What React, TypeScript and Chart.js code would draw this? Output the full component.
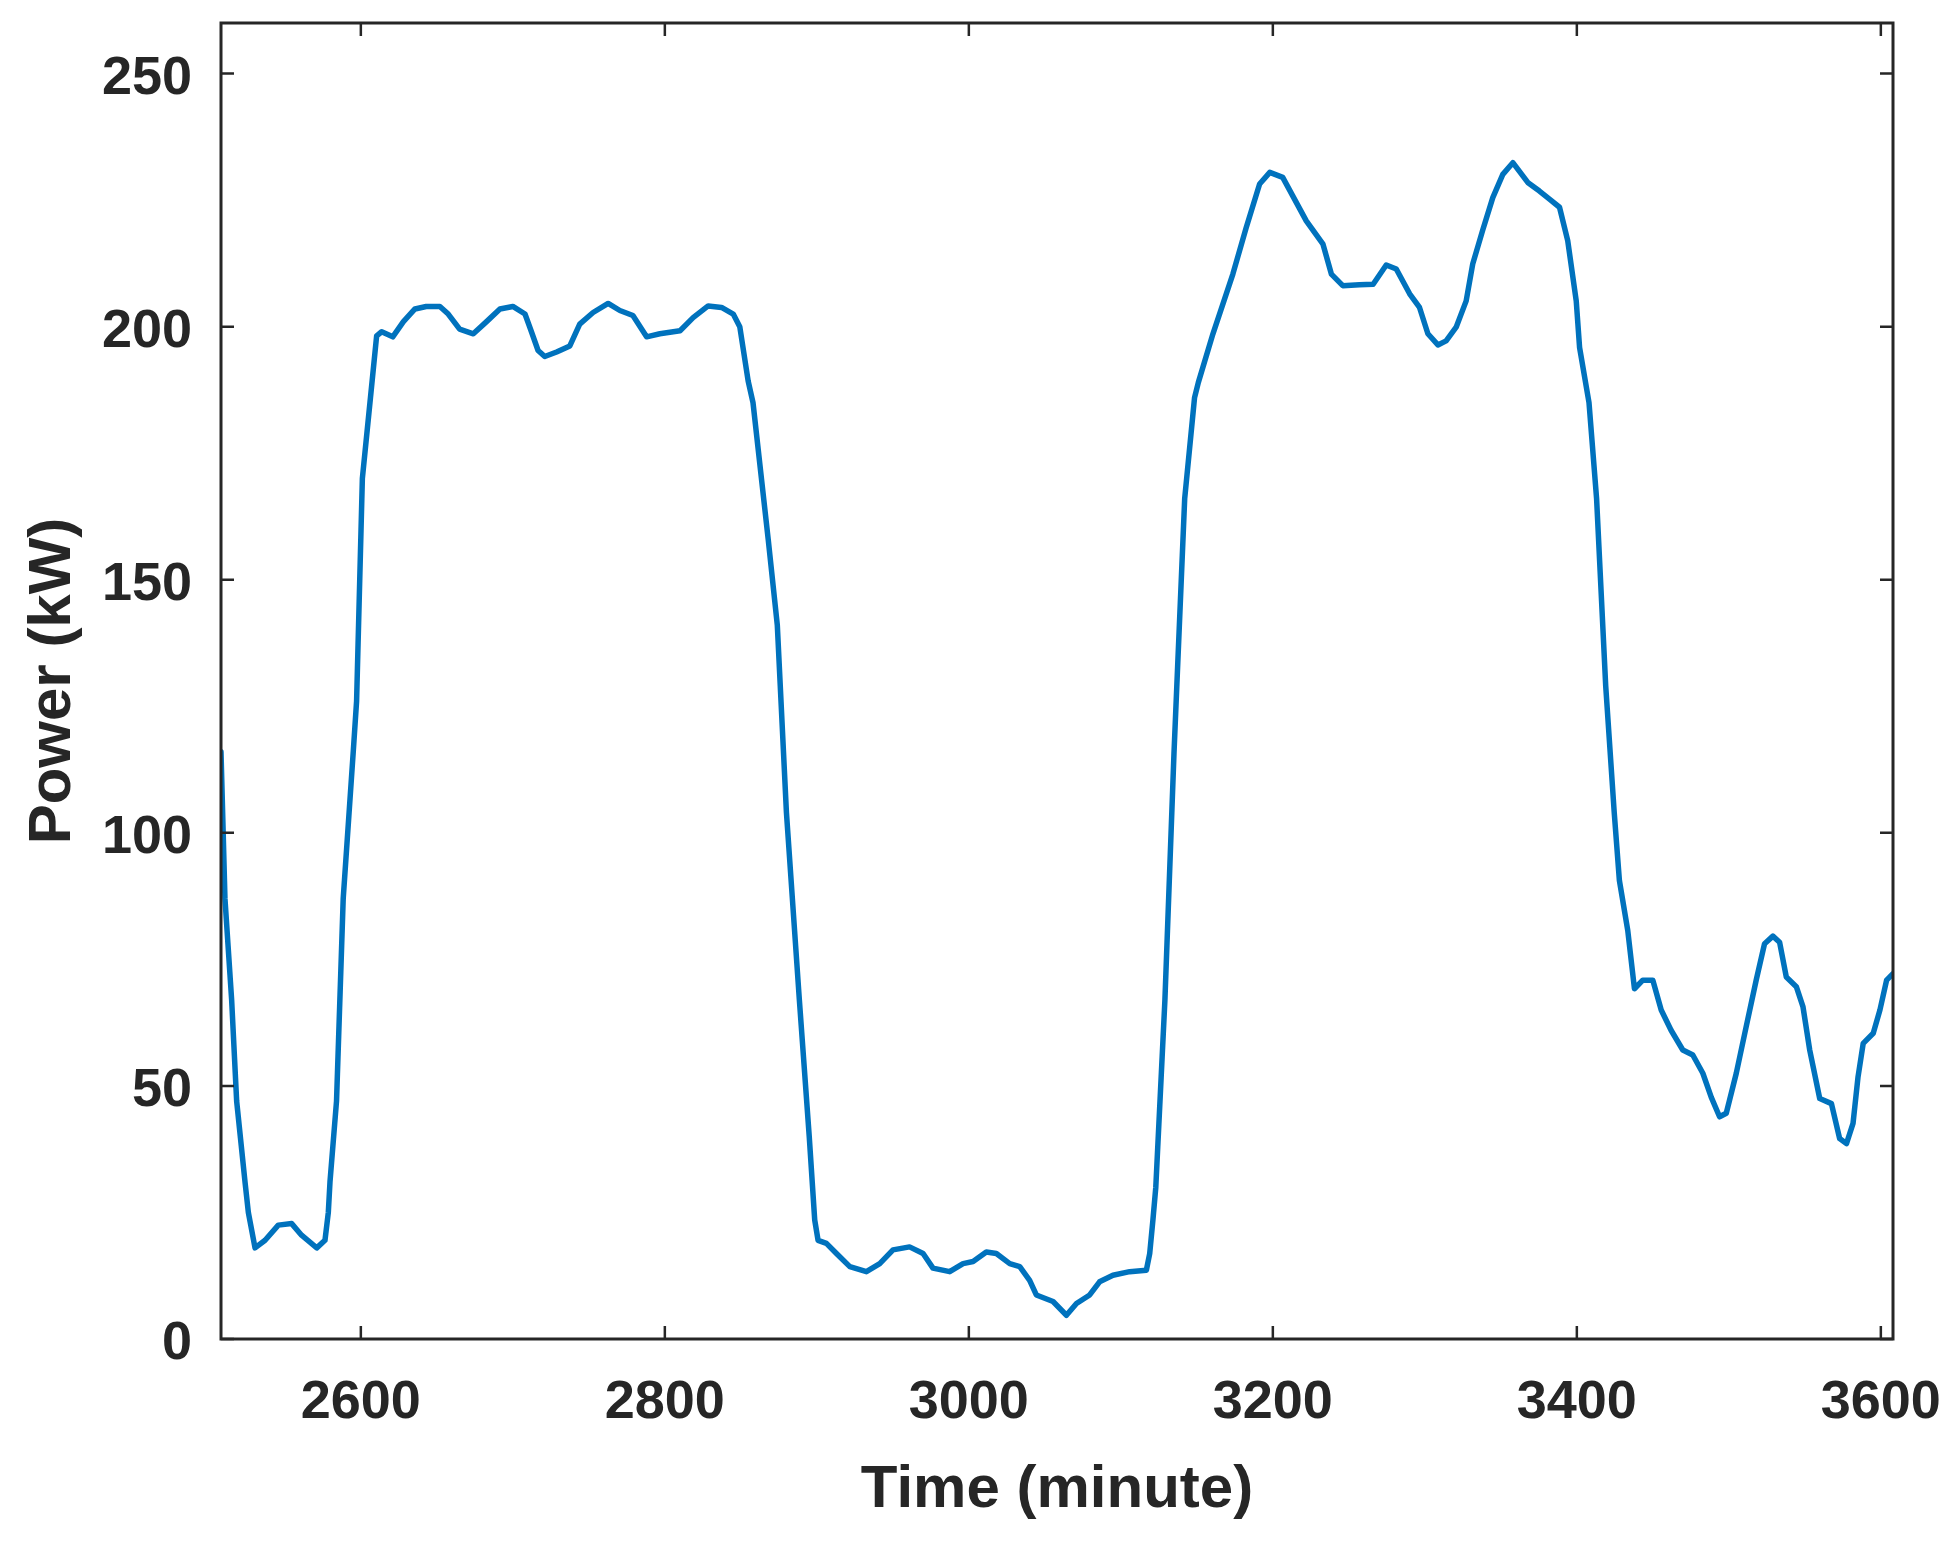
import React, { useEffect, useRef } from "react";
import { Chart, registerables } from "chart.js";

Chart.register(...registerables);

// Time axis (minutes) and measured power (kW)
const timeMinutes: number[] = [
  2508, 2510.6, 2515, 2518.3, 2523.8, 2526, 2530.4, 2537, 2545.7, 2554.5, 2561, 2571, 2576.4, 2578.6, 2579.7,
  2584, 2588.4, 2595, 2597.2, 2601, 2606, 2610.4, 2613.7, 2621, 2628, 2635.6, 2643, 2652, 2657.5, 2665,
  2674, 2682.7, 2691.5, 2700, 2708, 2712, 2716.6, 2721, 2728.8, 2737.5, 2744, 2752.8, 2762.7, 2770.4, 2779,
  2788, 2796.7, 2810, 2818.6, 2828.5, 2837.3, 2845, 2849.3, 2854.8, 2858, 2868, 2874, 2880, 2888.5, 2895,
  2898.6, 2900.8, 2906.3, 2912.9, 2921.7, 2932.6, 2941.4, 2950.1, 2961, 2969.9, 2976.4, 2987.4, 2996.2, 3002.8,
  3011.5, 3018.1, 3026.9, 3033.5, 3040, 3044.4, 3055.4, 3064.2, 3070.8, 3079.5, 3086, 3094.8, 3105.8, 3116.8,
  3119, 3121.1, 3123, 3129, 3135, 3142, 3148.5, 3151, 3160.6, 3173.7, 3182.5, 3191.3, 3198, 3206.5, 3213,
  3222, 3233, 3238.5, 3246, 3257, 3266, 3274.6, 3281.2, 3290, 3296.5, 3302, 3308.6, 3314, 3320.6, 3327.2,
  3331.5, 3338, 3344.7, 3351.3, 3357.9, 3367.7, 3375.4, 3382, 3388.6, 3394, 3399.6, 3401.8, 3408, 3413,
  3419, 3424.6, 3428, 3433.5, 3437.9, 3443.4, 3450, 3455.5, 3462, 3469.7, 3476.3, 3482.9, 3488.4, 3493.9,
  3498.3, 3504.9, 3511.4, 3518, 3523.5, 3529, 3533.4, 3537.8, 3544.4, 3548.8, 3553.2, 3559.8, 3567.5, 3572.9,
  3577.4, 3581.7, 3585, 3588.4, 3595, 3599.4, 3603.8, 3608,
];

const powerKW: number[] = [
  116, 87, 67, 47, 31, 25, 18, 19.5, 22.5, 22.8, 20.5, 18, 19.5, 25, 31,
  47, 87, 116, 126, 170, 185, 198.2, 199, 198, 201, 203.5, 204, 204, 202.5, 199.5,
  198.6, 201, 203.5, 204, 202.5, 199.2, 195.3, 194.1, 195, 196.2, 200.5, 202.8, 204.6, 203.2, 202.2,
  198, 198.6, 199.2, 201.8, 204.1, 203.8, 202.5, 200, 189.3, 185, 158, 141, 104, 67, 40,
  23.5, 19.5, 18.9, 16.9, 14.3, 13.3, 14.9, 17.6, 18.2, 16.9, 14, 13.3, 14.9, 15.3,
  17.2, 16.9, 14.9, 14.3, 11.6, 8.7, 7.4, 4.7, 7, 8.7, 11.3, 12.6, 13.3, 13.6,
  16.9, 23.5, 30, 67, 116, 166, 186, 189, 198.6, 210.4, 219.6, 228.2, 230.5, 229.5, 225.9,
  220.9, 216.3, 210.4, 208.1, 208.3, 208.4, 212.2, 211.4, 206.5, 203.8, 198.6, 196.4, 197.2, 199.9, 205.1,
  212.4, 219, 225.5, 230.1, 232.4, 228.5, 226.8, 225.2, 223.6, 217, 205.1, 195.9, 185, 166,
  129, 104, 90.6, 80.7, 69.2, 70.9, 70.9, 65, 61, 57.1, 56.1, 52.5, 47.8, 43.9,
  44.6, 52.5, 61.7, 70.9, 78.1, 79.6, 78.4, 71.5, 69.6, 65.6, 57.1, 47.5, 46.5, 39.6,
  38.6, 42.6, 51.8, 58.4, 60.4, 65, 70.9, 72.2,
];

const xTickValues: number[] = [2600, 2800, 3000, 3200, 3400, 3600];
const yTickValues: number[] = [0, 50, 100, 150, 200, 250];
const xLimits: number[] = [2508, 3608];
const yLimits: number[] = [0, 260];

const xTitle = "Time (minute)";
const yTitle = "Power (kW)";

const AXIS_COLOR = "#262626";
const LINE_COLOR = "#0072BD";
const FONT_FAMILY = "'Liberation Sans', Arial, Helvetica, sans-serif";

const boxPlugin = {
  id: "matlabBox",
  afterDatasetsDraw(chart: any) {
    const { ctx, chartArea, scales } = chart;
    const { left, right, top, bottom } = chartArea;
    const x = scales.x;
    const y = scales.y;
    ctx.save();
    ctx.strokeStyle = AXIS_COLOR;
    ctx.lineWidth = 3;
    ctx.strokeRect(left, top, right - left, bottom - top);
    const tl = 13;
    ctx.lineWidth = 2.5;
    ctx.beginPath();
    xTickValues.forEach((v) => {
      const px = x.getPixelForValue(v);
      ctx.moveTo(px, bottom);
      ctx.lineTo(px, bottom - tl);
      ctx.moveTo(px, top);
      ctx.lineTo(px, top + tl);
    });
    yTickValues.forEach((v) => {
      const py = y.getPixelForValue(v);
      ctx.moveTo(left, py);
      ctx.lineTo(left + tl, py);
      ctx.moveTo(right, py);
      ctx.lineTo(right - tl, py);
    });
    ctx.stroke();
    ctx.restore();
  },
};

export default function App() {
  const canvasRef = useRef<HTMLCanvasElement | null>(null);

  useEffect(() => {
    document.body.style.margin = "0";
    const canvas = canvasRef.current;
    if (!canvas) return;
    const points = timeMinutes.map((t, i) => ({ x: t, y: powerKW[i] }));
    const tickFont = { family: FONT_FAMILY, size: 54, weight: "bold" as const };
    const titleFont = { family: FONT_FAMILY, size: 60, weight: "bold" as const };

    const chart = new Chart(canvas, {
      type: "line",
      data: {
        datasets: [
          {
            data: points,
            borderColor: LINE_COLOR,
            borderWidth: 5.5,
            pointRadius: 0,
            tension: 0,
            fill: false,
            borderJoinStyle: "round",
            borderCapStyle: "round",
          },
        ],
      },
      options: {
        animation: false,
        responsive: false,
        devicePixelRatio: 1,
        layout: { padding: { top: 23, right: 62, left: 0, bottom: 0 } },
        plugins: {
          legend: { display: false },
          tooltip: { enabled: false },
        },
        scales: {
          x: {
            type: "linear",
            min: xLimits[0],
            max: xLimits[1],
            grid: { display: false, drawTicks: false, tickLength: 0 },
            border: { display: false },
            afterBuildTicks: (s: any) => {
              s.ticks = xTickValues.map((v) => ({ value: v }));
            },
            afterFit: (s: any) => {
              s.height = 211;
              s.paddingLeft = 0;
              s.paddingRight = 0;
            },
            ticks: {
              font: tickFont,
              color: AXIS_COLOR,
              padding: 32,
              maxRotation: 0,
              autoSkip: false,
              callback: (v: any) => String(v),
            },
            title: {
              display: true,
              text: xTitle,
              font: titleFont,
              color: AXIS_COLOR,
              padding: { top: 0, bottom: 24 },
            },
          },
          y: {
            type: "linear",
            min: yLimits[0],
            max: yLimits[1],
            grid: { display: false, drawTicks: false, tickLength: 0 },
            border: { display: false },
            afterBuildTicks: (s: any) => {
              s.ticks = yTickValues.map((v) => ({ value: v }));
            },
            afterFit: (s: any) => {
              s.width = 221;
              s.paddingTop = 0;
              s.paddingBottom = 0;
            },
            ticks: {
              font: tickFont,
              color: AXIS_COLOR,
              padding: 29,
              labelOffset: 5,
              autoSkip: false,
              callback: (v: any) => String(v),
            },
            title: {
              display: true,
              text: yTitle,
              font: titleFont,
              color: AXIS_COLOR,
              padding: { top: 17, bottom: 0 },
            },
          },
        },
      },
      plugins: [boxPlugin],
    });

    return () => {
      chart.destroy();
    };
  }, []);

  return (
    <div style={{ width: 1955, height: 1550, background: "#ffffff" }}>
      <canvas ref={canvasRef} width={1955} height={1550} style={{ width: 1955, height: 1550, display: "block" }} />
    </div>
  );
}
